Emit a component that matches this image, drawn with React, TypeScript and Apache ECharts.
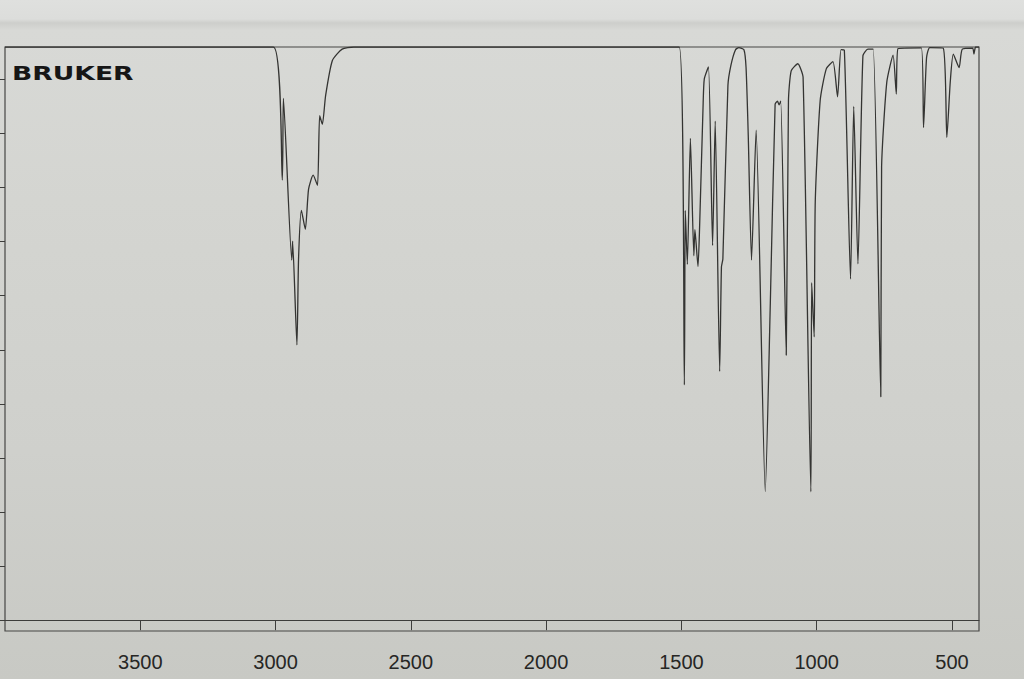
import React, { useEffect, useRef } from "react";
import * as echarts from "echarts";

// Wavenumber (cm-1) and transmittance (%)
const WAVENUMBER = [
  4000, 3008, 2975, 2971, 2940, 2937, 2921, 2915, 2904.5, 2890, 2878, 2861, 2845, 2837, 2827, 2815, 2790, 2754, 2711,
  1508, 1489, 1485.7, 1478, 1466.7, 1454, 1450, 1438.6, 1432.7, 1419.5, 1415.3, 1400, 1384.7, 1375, 1358.5, 1352,
  1346.7, 1328, 1317, 1300, 1287.6, 1268.8, 1261, 1252.9, 1240.8, 1223.8, 1190, 1171.3, 1153.6, 1145, 1138.8, 1132.9,
  1112.4, 1104.3, 1094.2, 1069.8, 1050.2, 1021.4, 1018.5, 1009.2, 1005.2, 987, 964.2, 939.8, 922.8, 910, 897.7, 874.8,
  863, 847.5, 829, 810.6, 791, 763, 760, 740.8, 717.5, 705.7, 699.5, 613.1, 605, 593.9, 582, 532.2, 518.9, 506, 494.9,
  473.5, 461.7, 423.6, 418.7, 412.6, 400,
];
const TRANSMITTANCE = [
  106, 106, 81.4, 96.5, 66.6, 70.1, 50.9, 66.8, 75.8, 72.3, 79.7, 82.3, 80.4, 93.3, 91.7, 97.0, 103.5, 105.6, 106,
  106, 43.5, 75.8, 65.8, 89.1, 67.4, 72.2, 65.4, 72.7, 95.7, 100.1, 102.3, 69.3, 92.3, 46.0, 65.3,
  66.8, 98.9, 102.6, 105.5, 105.9, 105.5, 102.2, 89.7, 66.6, 90.6, 23.8, 58.6, 95.4, 96.0, 95.3, 96.0,
  49.0, 96.0, 101.6, 102.9, 100.4, 23.75, 62.4, 52.4, 77.4, 96.1, 102, 103.3, 96.8, 105.5, 105.4, 63.1,
  95, 65.9, 104.4, 105.6, 105.6, 41.3, 83.8, 99.5, 104.5, 97.3, 105.7, 105.85, 91.1, 104, 105.9, 105.8, 89.3, 99.7, 104.7,
  102.2, 105.6, 105.8, 104.7, 106, 106,
];
const X_TICKS = [500, 1000, 1500, 2000, 2500, 3000, 3500];
const Y_TICKS = [0, 10, 20, 30, 40, 50, 60, 70, 80, 90, 100];
const BRAND = "BRUKER";

export default function App() {
  const ref = useRef<HTMLDivElement>(null);
  useEffect(() => {
    if (!ref.current) return;
    const chart = echarts.init(ref.current, undefined, { renderer: "svg" });
    const data = WAVENUMBER.map((w, i) => [w, TRANSMITTANCE[i]]);
    chart.setOption({
      animation: false,
      backgroundColor: "transparent",
      grid: {
        left: 5,
        right: 45,
        top: 47,
        bottom: 48,
        show: true,
        borderColor: "#474745",
        borderWidth: 1.2,
        backgroundColor: "transparent",
      },
      xAxis: {
        type: "value",
        min: 400,
        max: 4000,
        inverse: true,
        axisLine: { show: true, lineStyle: { color: "#3d3d3b", width: 1.2 } },
        axisTick: {
          show: true,
          length: 10,
          customValues: X_TICKS,
          lineStyle: { color: "#3d3d3b", width: 1 },
        },
        axisLabel: {
          customValues: X_TICKS,
          formatter: (v: number) => String(v),
          fontSize: 20,
          fontFamily: "'Liberation Sans', Arial, sans-serif",
          color: "#262624",
          margin: 21,
        },
        splitLine: { show: false },
      },
      yAxis: {
        type: "value",
        min: -2,
        max: 106,
        axisLine: { show: false },
        axisTick: {
          show: true,
          length: 5,
          customValues: Y_TICKS,
          lineStyle: { color: "#3d3d3b", width: 1 },
        },
        axisLabel: { show: false },
        splitLine: { show: false },
      },
      series: [
        {
          type: "line",
          data,
          symbol: "none",
          showSymbol: false,
          smooth: 0.2,
          clip: true,
          lineStyle: { color: "#343432", width: 1.3 },
        },
      ],
      graphic: [
        {
          type: "text",
          x: 12,
          y: 73.5,
          scaleX: 1.33,
          style: {
            text: BRAND,
            fontSize: 20,
            fontWeight: "bold",
            fontFamily: "'DejaVu Sans', sans-serif",
            fill: "#161616",
            textVerticalAlign: "middle",
          },
        },
      ],
    });
    return () => chart.dispose();
  }, []);
  return (
    <div
      style={{
        position: "absolute",
        left: 0,
        top: 0,
        width: 1024,
        height: 679,
        background:
          "linear-gradient(180deg, #dfe0de 0px, #dcdddb 19px, #cdcecb 23px, #d8d9d6 30px, #d4d5d1 200px, #cfd0cc 450px, #c8c9c4 679px)",
      }}
    >
      <div ref={ref} style={{ width: 1024, height: 679 }} />
    </div>
  );
}
